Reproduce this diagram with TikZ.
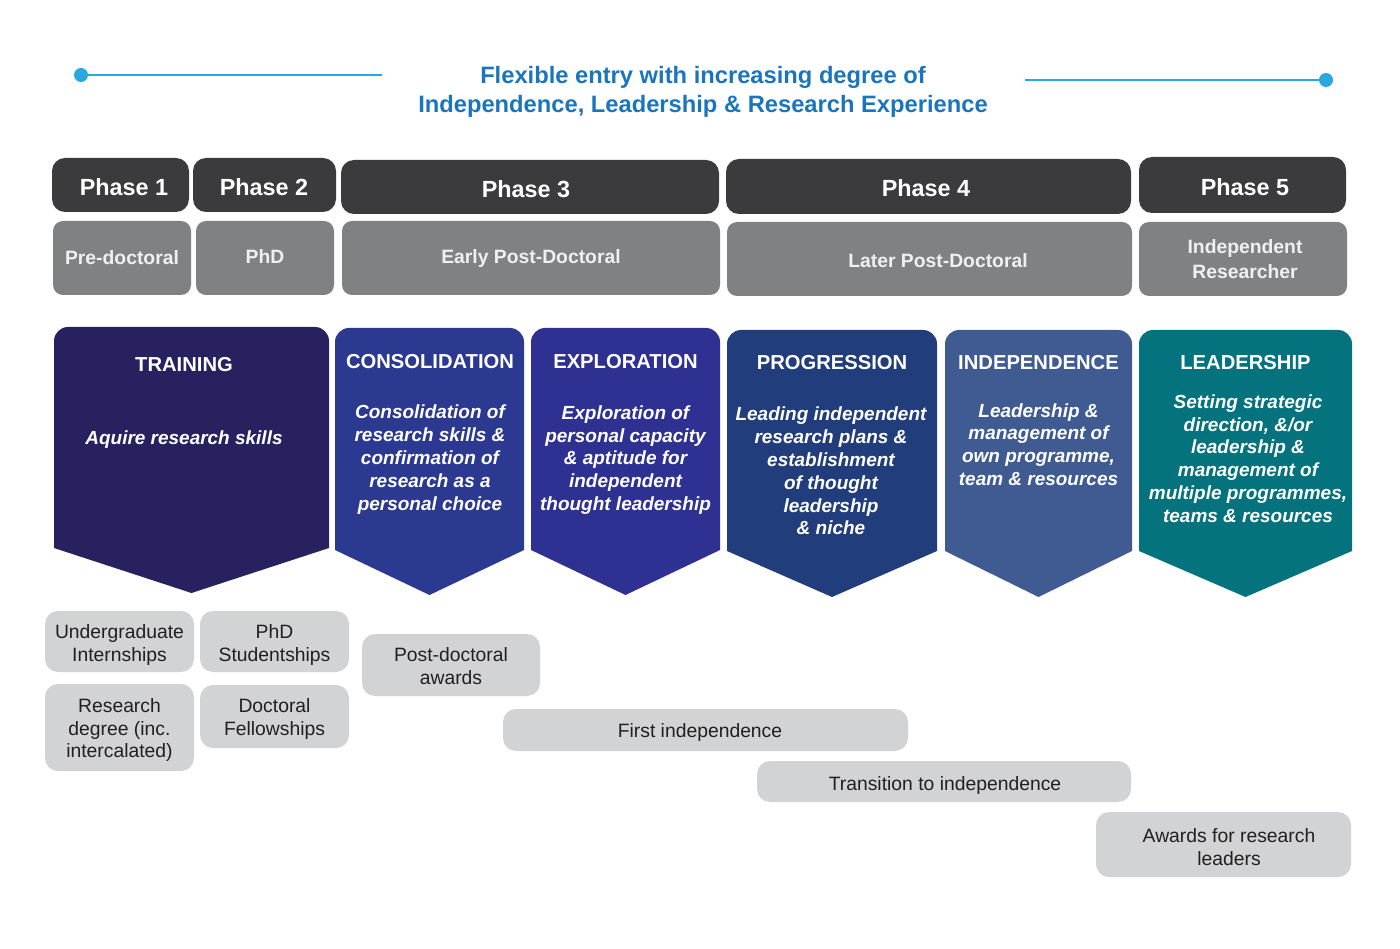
\documentclass[tikz,border=0pt]{standalone}
\usepackage{fontspec}
\setmainfont{Liberation Sans}
\definecolor{titleblue}{HTML}{1B75BC}
\definecolor{lineblue}{HTML}{29A8E0}
\definecolor{phasedark}{HTML}{3B3B3D}
\definecolor{phasegray}{HTML}{808183}
\definecolor{lightbox}{HTML}{D1D3D4}
\definecolor{boxtext}{HTML}{231F20}
\definecolor{cTrain}{HTML}{27225F}
\definecolor{cCons}{HTML}{2B3990}
\definecolor{cExpl}{HTML}{2E3192}
\definecolor{cProg}{HTML}{213D7B}
\definecolor{cInd}{HTML}{3F5B92}
\definecolor{cLead}{HTML}{04737D}
\newcommand{\chevshape}[6]{%
  \fill[#6] (#1,#4) -- (#1,#3+14) .. controls (#1,#3+6.3) and (#1+6.3,#3) .. (#1+14,#3)
    -- (#2-14,#3) .. controls (#2-6.3,#3) and (#2,#3+6.3) .. (#2,#3+14)
    -- (#2,#4) -- ({(#1+#2)/2},#5) -- cycle;}
\tikzset{
  wh/.style 2 args={minimum width=#1*0.02cm, minimum height=#2*0.02cm},
  phasebox/.style={fill=phasedark, rounded corners=0.26cm, inner sep=0pt},
  phasetxt/.style={text=white, inner sep=0pt, font=\fontsize{13.3}{16}\selectfont\bfseries},
  stagebox/.style={fill=phasegray, rounded corners=0.2cm, inner sep=0pt},
  stagetxt/.style={text=white!94!black, inner sep=0pt, align=center,
    font=\fontsize{11}{14}\selectfont\bfseries},
  chevtitle/.style={text=white, inner sep=0pt, font=\fontsize{11.5}{14}\selectfont\bfseries},
  chevbody/.style={text=white, inner sep=0pt, align=center, font=\fontsize{10.8}{13}\selectfont\bfseries\itshape},
  awardbox/.style={fill=lightbox, rounded corners=0.26cm, inner sep=0pt},
  awardtxt/.style={text=boxtext, inner sep=0pt, align=center, font=\fontsize{11}{13}\selectfont},
  tline/.style={draw=lineblue, line width=1.7pt},
  tdot/.style={circle, fill=lineblue, inner sep=0pt, minimum size=0.28cm},
}
\begin{document}
\begin{tikzpicture}[x=0.02cm, y=-0.02cm]
\useasboundingbox (0,0) rectangle (1400,949);
% title
\node[tdot] (dl) at (81,75) {};
\coordinate (dle) at (382,75);
\draw[tline] (dl.center) -- (dle);
\node[tdot] (dr) at (1326,80) {};
\coordinate (drs) at (1025,80);
\draw[tline] (drs) -- (dr.center);
\node[text=titleblue, align=center, font=\fontsize{13.5}{16.4}\selectfont\bfseries] (title) at (703,91.5)
  {Flexible entry with increasing degree of\\Independence, Leadership \& Research Experience};
% phases
\node[phasebox, wh={137}{54}] (p1) at (120.5,185) {};
\node[phasebox, wh={143}{54}] (p2) at (264.5,185) {};
\node[phasebox, wh={378}{54}] (p3) at (530,187) {};
\node[phasebox, wh={405}{55}] (p4) at (928.5,186.5) {};
\node[phasebox, wh={207}{56}] (p5) at (1242.5,185) {};
\node[phasetxt] (p1t) at (124,187) {Phase 1};
\node[phasetxt] (p2t) at (264,187) {Phase 2};
\node[phasetxt] (p3t) at (526,189) {Phase 3};
\node[phasetxt] (p4t) at (926,188) {Phase 4};
\node[phasetxt] (p5t) at (1245,187) {Phase 5};
% stages
\node[stagebox, wh={138}{74}] (s1) at (122,258) {};
\node[stagebox, wh={138}{74}] (s2) at (265,258) {};
\node[stagebox, wh={378}{74}] (s3) at (531,258) {};
\node[stagebox, wh={405}{74}] (s4) at (929.5,259) {};
\node[stagebox, wh={208}{74}] (s5) at (1243,259) {};
\node[stagetxt] (s1t) at (122,258) {Pre-doctoral};
\node[stagetxt] (s2t) at (265,257) {PhD};
\node[stagetxt] (s3t) at (531,259) {Early Post-Doctoral};
\node[stagetxt] (s4t) at (938,261) {Later Post-Doctoral};
\node[stagetxt] (s5t) at (1245,259) {Independent\\Researcher};
% chevrons
\chevshape{54}{329}{327}{548}{593}{cTrain}
\chevshape{335}{524}{328}{550}{595}{cCons}
\chevshape{531}{720}{328}{550}{595}{cExpl}
\chevshape{727}{937}{330}{551}{597}{cProg}
\chevshape{945}{1132}{330}{551}{597}{cInd}
\chevshape{1139}{1352}{330}{551}{597}{cLead}
\node[chevtitle] (t1) at (184,365) {TRAINING};
\node[chevbody] (b1) at (184,440) {Aquire research skills};
\node[chevtitle] (t2) at (430,362) {CONSOLIDATION};
\node[chevbody] (b2) at (430,459.5) {Consolidation of\\research skills \&\\confirmation of\\research as a\\personal choice};
\node[chevtitle] (t3) at (625.5,362) {EXPLORATION};
\node[chevbody] (b3) at (625.5,460) {Exploration of\\personal capacity\\\& aptitude for\\independent\\thought leadership};
\node[chevtitle] (t4) at (832,363) {PROGRESSION};
\node[chevbody] (b4) at (831,471) {Leading independent\\research plans \&\\establishment\\of thought\\leadership\\\& niche};
\node[chevtitle] (t5) at (1038.5,363) {INDEPENDENCE};
\node[chevbody] (b5) at (1038.5,444.5) {Leadership \&\\management of\\own programme,\\team \& resources};
\node[chevtitle] (t6) at (1245.5,363) {LEADERSHIP};
\node[chevbody] (b6) at (1248,458.5) {Setting strategic\\direction, \&/or\\leadership \&\\management of\\multiple programmes,\\teams \& resources};
% awards
\node[awardbox, wh={149}{61}] (a1) at (119.5,641.5) {};
\node[awardbox, wh={149}{61}] (a2) at (274.5,641.5) {};
\node[awardbox, wh={149}{87}] (a3) at (119.5,727.5) {};
\node[awardbox, wh={149}{63}] (a4) at (274.5,716.5) {};
\node[awardbox, wh={178}{62}] (a5) at (451,665) {};
\node[awardbox, wh={405}{42}] (a6) at (705.5,730) {};
\node[awardbox, wh={374}{41}] (a7) at (944,781.5) {};
\node[awardbox, wh={255}{65}] (a8) at (1223.5,844.5) {};
\node[awardtxt] (a1t) at (119.5,645) {Undergraduate\\Internships};
\node[awardtxt] (a2t) at (274.5,645) {PhD\\Studentships};
\node[awardtxt] (a3t) at (119.5,730) {Research\\degree (inc.\\intercalated)};
\node[awardtxt] (a4t) at (274.5,719) {Doctoral\\Fellowships};
\node[awardtxt] (a5t) at (451,666.5) {Post-doctoral\\awards};
\node[awardtxt] (a6t) at (700,733) {First independence};
\node[awardtxt] (a7t) at (945,785) {Transition to independence};
\node[awardtxt] (a8t) at (1229,847) {Awards for research\\leaders};
\end{tikzpicture}
\end{document}
